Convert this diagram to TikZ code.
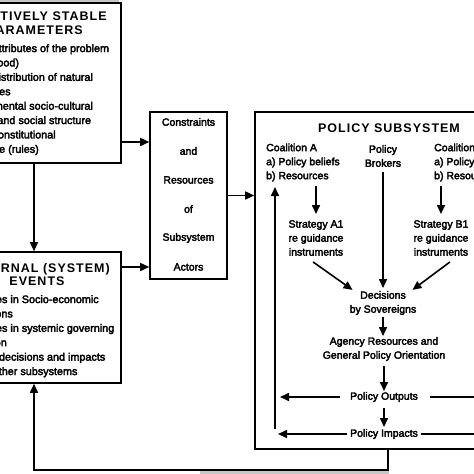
\documentclass[tikz,border=0pt]{standalone}
\usepackage{fontspec}
\setmainfont{Liberation Sans}[FakeBold=3]
\newfontfamily\ttlfont{Liberation Sans Bold}[LetterSpace=8]
\usetikzlibrary{arrows.meta,calc}
\begin{document}
\begin{tikzpicture}[x=1pt,y=-1pt,
  box/.style={draw,line width=1.6pt,inner sep=0pt},
  txt/.style={inner sep=0pt,font=\fontsize{10.5}{14}\selectfont},
  ltxt/.style={inner sep=0pt,align=left,font=\fontsize{10.8}{14.4}\selectfont},
  ttl/.style={inner sep=0pt,align=center,font=\fontsize{12.5}{13.5}\selectfont\ttlfont},
  arr/.style={line width=1.6pt,-{Triangle[length=9pt,width=8pt]}},
  shade/.style={fill=black!22,draw=none}]
\useasboundingbox (0,0) rectangle (474,474);
\clip (0,0) rectangle (474,474);
\fill[white] (0,0) rectangle (474,474);
% scan shadows
\fill[shade] (0,0) rectangle (119,2);
\fill[shade] (200,471) rectangle (389,474);
% boxes
\node[box,minimum width=177pt,minimum height=160pt] (params) at (32.5,83) {};
\node[box,minimum width=177pt,minimum height=131pt] (external) at (32.5,317.5) {};
\node[box,minimum width=77pt,minimum height=167pt] (constraints) at (188.5,195.5) {};
\node[box,minimum width=268pt,minimum height=337pt] (subsystem) at (389,280.5) {};
% parameters text
\node[ttl] (paramsT) at (35,23) {RELATIVELY STABLE\\PARAMETERS};
\node[ltxt,anchor=north west] (paramsL) at (-50,44) {%
1. Basic attributes of the problem\\
\hspace*{13pt}area (good)\\
2. Basic distribution of natural\\
\hspace*{13pt}resources\\
3. Fundamental socio-cultural\\
\hspace*{13pt}values and social structure\\
4. Basic constitutional\\
\hspace*{13pt}structure (rules)};
% external text
\node[ttl] (externalT) at (37,274.5) {EXTERNAL (SYSTEM)\\EVENTS};
\node[ltxt,anchor=north west] (externalL) at (-49,295) {%
1. Changes in Socio-economic\\
\hspace*{13pt}conditions\\
2. Changes in systemic governing\\
\hspace*{16pt}coalition\\
\hspace*{3pt}3. Policy decisions and impacts\\
\hspace*{17pt}from other subsystems};
% constraints text
\node[txt] (c1) at (188.5,122) {Constraints};
\node[txt] (c2) at (188.5,151) {and};
\node[txt] (c3) at (188.5,180) {Resources};
\node[txt] (c4) at (188.5,209) {of};
\node[txt] (c5) at (188.5,238) {Subsystem};
\node[txt] (c6) at (188.5,267) {Actors};
% policy subsystem contents
\node[ttl] (psT) at (389,128) {POLICY SUBSYSTEM};
\node[txt,align=left,anchor=west] (coalA) at (266,162.5) {Coalition A\\a) Policy beliefs\\b) Resources};
\node[txt,align=center] (brokers) at (383,156) {Policy\\Brokers};
\node[txt,align=left,anchor=west] (coalB) at (434,162.5) {Coalition B\\a) Policy beliefs\\b) Resources};
\node[txt,align=center] (stratA) at (316,238) {Strategy A1\\re guidance\\instruments};
\node[txt,align=center] (stratB) at (441,238) {Strategy B1\\re guidance\\instruments};
\node[txt,align=center] (decisions) at (383,303) {Decisions\\by Sovereigns};
\node[txt,align=center] (agency) at (384,349) {Agency Resources and\\General Policy Orientation};
\node[txt] (outputs) at (384,397) {Policy Outputs};
\node[txt] (impacts) at (384,434) {Policy Impacts};
\coordinate (fbtop) at (275,187);
\coordinate (fbbot) at (275,429);
\coordinate (fbtopB) at (503,187);
\coordinate (fbbotB) at (503,429);
\coordinate (low) at (34,470);
% connectors between outer boxes
\draw[arr] (params.east |- 0,142) -- (constraints.west |- 0,142);
\draw[arr] (external.east |- 0,267) -- (constraints.west |- 0,267);
\draw[arr] (params.south -| low) -- (external.north -| low);
\draw[arr] ([xshift=-1pt]subsystem.south) |- (low) -- (external.south -| low);
\draw[arr] (constraints.east) -- (constraints.east -| subsystem.west);
% inside subsystem
\draw[arr] (stratA.north |- 0,186) -- (stratA.north |- 0,214);
\draw[arr] (stratB.north |- 0,186) -- (stratB.north |- 0,214);
\draw[arr] (brokers.south |- 0,172) -- (brokers.south |- 0,288);
\draw[arr] ($(stratA.south)+(-3,6)$) -- ($(decisions.north west)+(3,-1)$);
\draw[arr] ($(stratB.south)+(9,6)$) -- ($(decisions.north east)+(-4,-1)$);
\draw[arr] (decisions.south |- 0,317) -- (decisions.south |- 0,336);
\draw[arr] (agency.south |- 0,366) -- (agency.south |- 0,391);
\draw[arr] (outputs.south |- 0,408) -- (outputs.south |- 0,427);
\draw[arr] ($(outputs.west)+(-10,0)$) -- ($(outputs.west -| fbtop)+(5,0)$);
\draw[arr] ($(impacts.west)+(-3,0)$) -- ($(impacts.west -| fbtop)+(3,0)$);
\draw[arr] ($(outputs.east)+(12,0)$) -- ($(outputs.east -| fbtopB)+(-5,0)$);
\draw[arr] ($(impacts.east)+(3,0)$) -- ($(impacts.east -| fbtopB)+(-3,0)$);
\draw[arr] (fbbot) -- (fbtop);
\draw[arr] (fbbotB) -- (fbtopB);
\end{tikzpicture}
\end{document}
